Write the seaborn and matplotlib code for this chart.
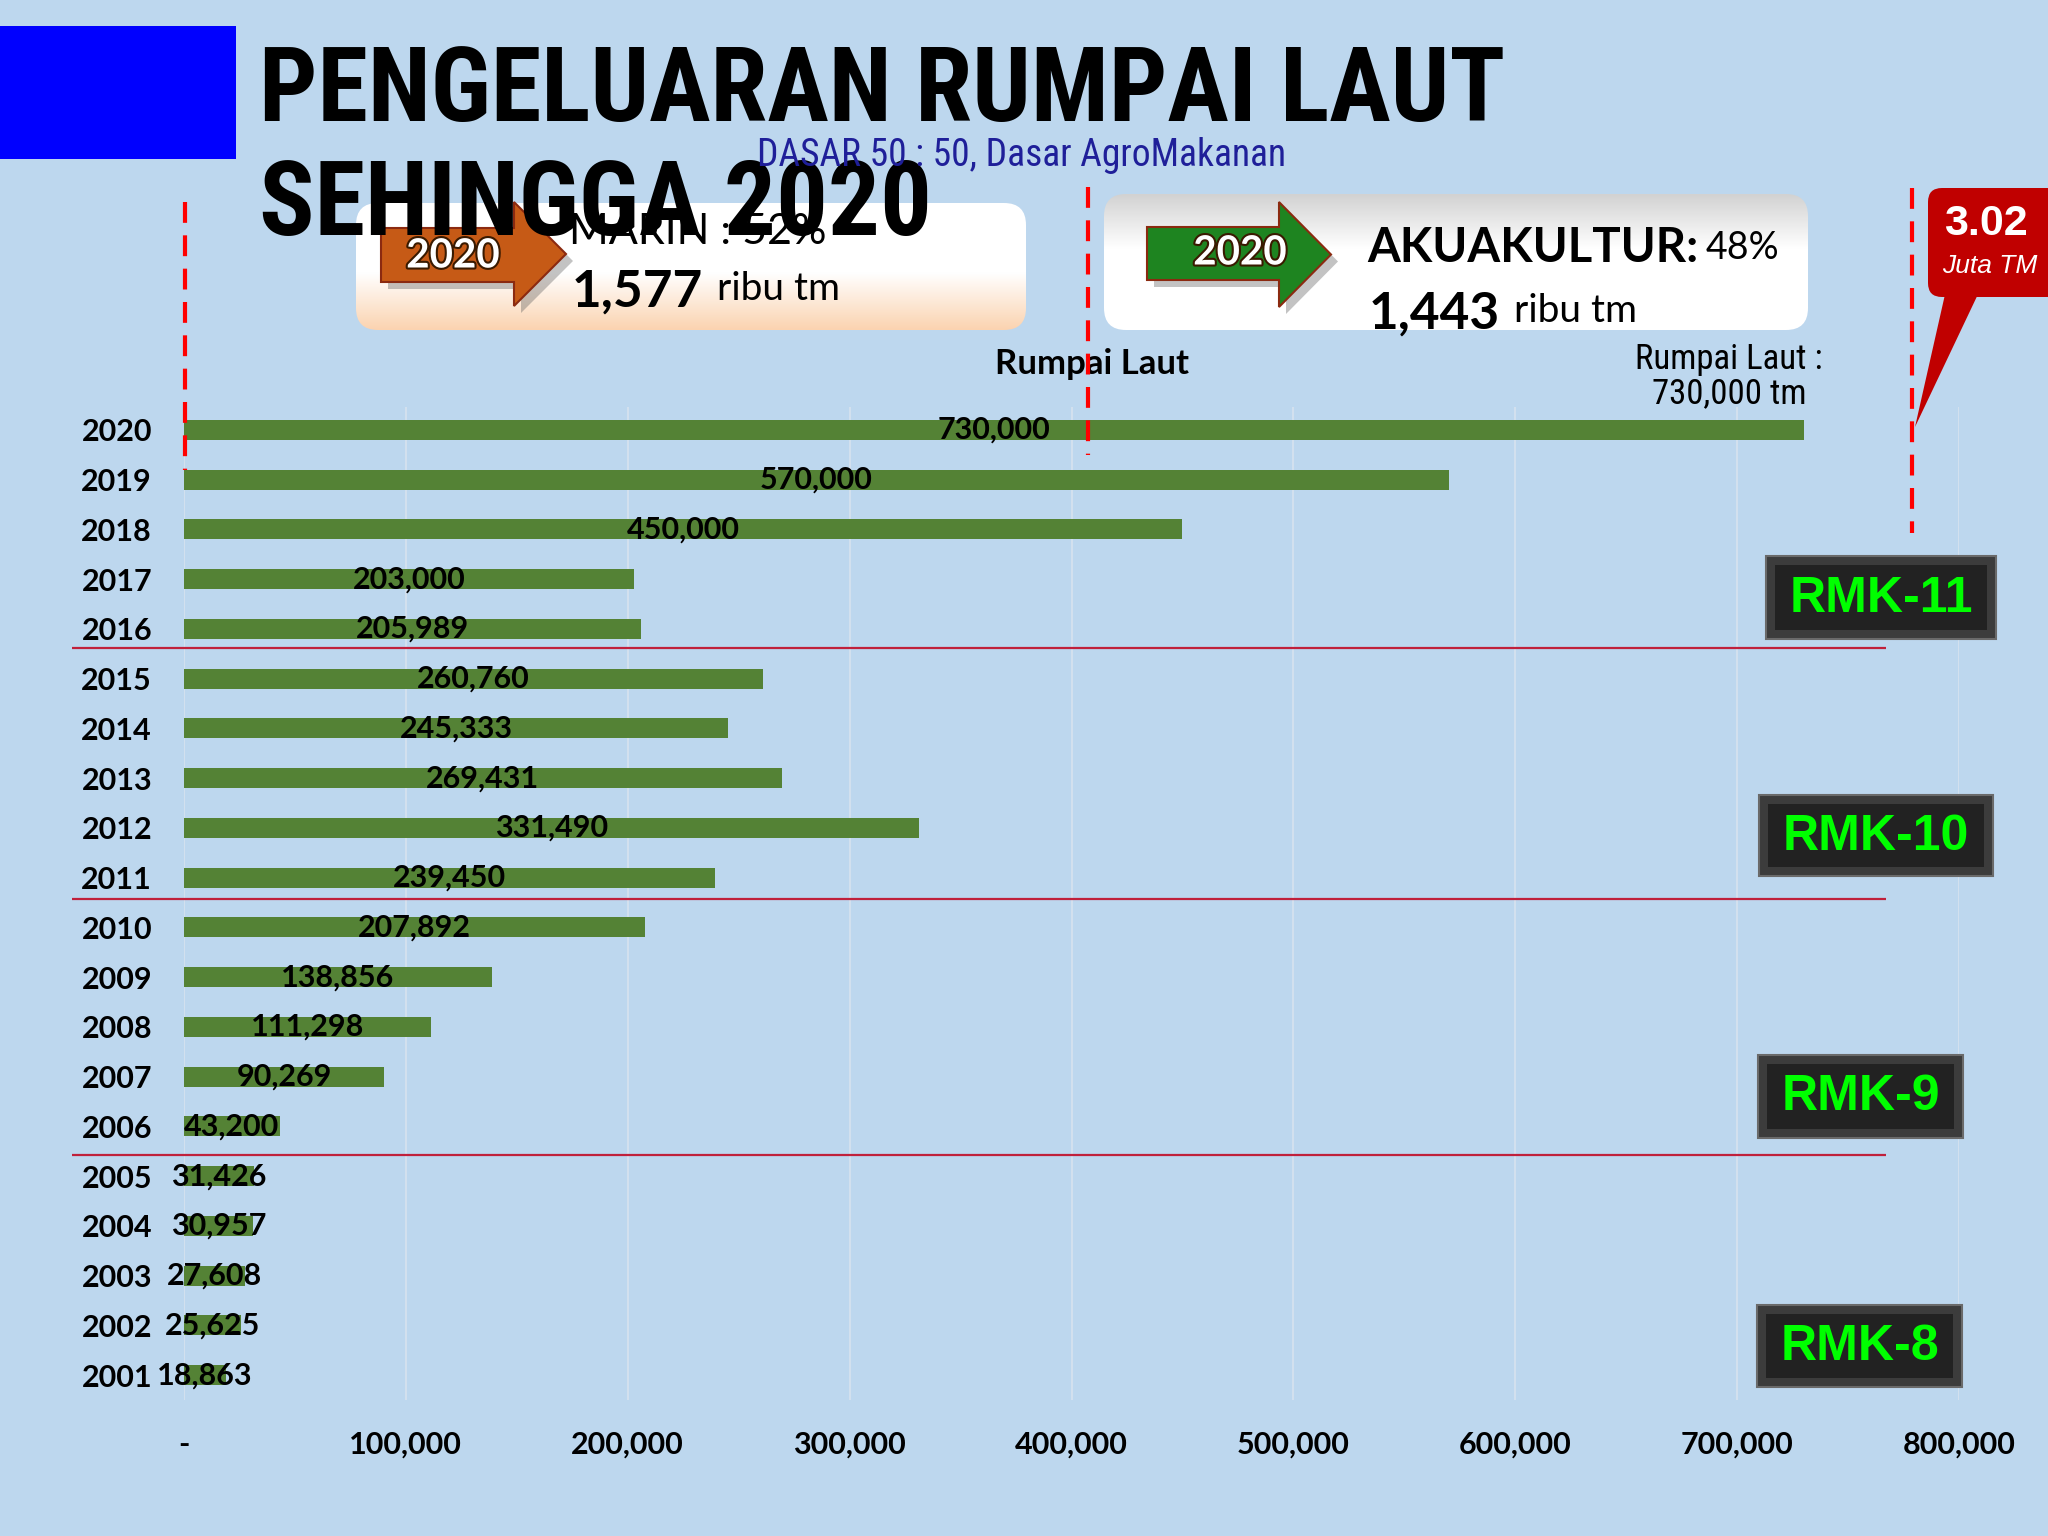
import numpy as np
import matplotlib
matplotlib.use("Agg")
import matplotlib.pyplot as plt
import matplotlib.patheffects as pe
from matplotlib import font_manager as fm
from matplotlib.patches import FancyBboxPatch, Polygon, Rectangle
from matplotlib.ticker import FuncFormatter
import seaborn as sns

# data
years = ['2020', '2019', '2018', '2017', '2016', '2015', '2014', '2013', '2012', '2011',
         '2010', '2009', '2008', '2007', '2006', '2005', '2004', '2003', '2002', '2001']
production = [730000, 570000, 450000, 203000, 205989, 260760, 245333, 269431, 331490, 239450,
              207892, 138856, 111298, 90269, 43200, 31426, 30957, 27608, 25625, 18863]
x_ticks = [0, 100000, 200000, 300000, 400000, 500000, 600000, 700000, 800000]
rmk_labels = ['RMK-11', 'RMK-10', 'RMK-9', 'RMK-8']
rmk_breaks = [4.38, 9.43, 14.57]

bg = '#BDD7EE'
bar_green = '#548235'

plt.rcParams['font.family'] = ['Lato', 'DejaVu Sans']


# look for a narrow face for the title (Arial Narrow look-alike)
def find_narrow(bold):
    wanted = ['Liberation Sans Narrow', 'Roboto Condensed', 'DejaVu Sans Condensed',
              'Open Sans Condensed', 'Noto Sans Condensed']
    for name in wanted:
        for f in fm.fontManager.ttflist:
            is_bold = f.weight in ('bold', 700, 'heavy') or (isinstance(f.weight, int) and f.weight >= 600)
            if (f.name == name or (name.startswith(f.name) and f.stretch == 'condensed')) \
                    and is_bold == bold and f.style == 'normal':
                return f.fname
    return None


nb = find_narrow(True)
nr = find_narrow(False)
title_fp = fm.FontProperties(fname=nb, size=74) if nb else fm.FontProperties(family='Lato', weight='bold', size=63)
sub_fp = fm.FontProperties(fname=nr, size=27) if nr else fm.FontProperties(family='Lato', size=23.5)
note_fp = fm.FontProperties(fname=nr, size=25) if nr else fm.FontProperties(family='Lato', size=24)

fig = plt.figure(figsize=(20.48, 15.36), dpi=100, facecolor=bg)

# main bar chart
ax = fig.add_axes([184 / 2048, 1 - 1400 / 1536, (1959 - 184) / 2048, (1400 - 407) / 1536])
ax.set_facecolor('none')
sns.barplot(x=production, y=years, order=years, orient='h', color=bar_green,
            saturation=1, width=0.4, ax=ax, zorder=3)
ax.set_xlim(0, 800000)
ax.set_ylim(19.5, -0.46)
ax.set_xticks(x_ticks)
ax.xaxis.set_major_formatter(FuncFormatter(lambda v, p: '-' if v == 0 else f'{v:,.0f}'))
ax.grid(axis='x', color='#D5E2EF', lw=1.3, zorder=0)
ax.grid(axis='y', visible=False)
ax.set_axisbelow(True)
for s in ax.spines.values():
    s.set_visible(False)
ax.tick_params(axis='both', length=0, labelsize=22)
ax.tick_params(axis='y', pad=23)
ax.tick_params(axis='x', pad=22)
for lab in ax.get_xticklabels() + ax.get_yticklabels():
    lab.set_fontweight('bold')
ax.set_xlabel('')
ax.set_ylabel('')

ax.bar_label(ax.containers[0], labels=[f'{v:,}' for v in production], label_type='center',
             fontsize=22, fontweight='bold', color='black', zorder=4)

# RMK separators
ax.hlines(rmk_breaks, -50500, 767000, colors='#C0203A', lw=1.6, clip_on=False, zorder=4)

# overlay in pixel coordinates for slide decorations
ov = fig.add_axes([0, 0, 1, 1], zorder=5)
ov.set_facecolor('none')
ov.axis('off')
ov.set_xlim(0, 2048)
ov.set_ylim(1536, 0)


def grad_box(x0, y0, x1, y1, stops, radius=22):
    patch = FancyBboxPatch((x0, y0), x1 - x0, y1 - y0,
                           boxstyle=f'round,pad=0,rounding_size={radius}',
                           fc='none', ec='none')
    ov.add_patch(patch)
    pos = np.linspace(0, 1, 200)
    cols = np.array([matplotlib.colors.to_rgb(c) for _, c in stops])
    ps = [p for p, _ in stops]
    img = np.stack([np.interp(pos, ps, cols[:, i]) for i in range(3)], axis=-1)
    img = np.repeat(img[:, None, :], 2, axis=1)
    im = ov.imshow(img, extent=[x0, x1, y1, y0], aspect='auto', zorder=1)
    im.set_clip_path(patch)


def arrow(x0, x1, xt, yb0, yb1, yh0, yh1, color):
    ym = (yh0 + yh1) / 2
    pts = [(x0, yb0), (x1, yb0), (x1, yh0), (xt, ym), (x1, yh1), (x1, yb1), (x0, yb1)]
    sh = [(x + 7, y + 7) for x, y in pts]
    ov.add_patch(Polygon(sh, closed=True, fc='#555555', ec='none', alpha=0.35, zorder=2))
    ov.add_patch(Polygon(pts, closed=True, fc=color, ec='#8B2A10', lw=1.5, zorder=3))


# blue block
ov.add_patch(Rectangle((0, 26), 236, 133, fc='#0000FF', ec='none', zorder=1))

# info boxes
grad_box(356, 203, 1026, 330, [(0, '#FFFFFF'), (0.55, '#FFFFFF'), (1, '#FBD3B0')])
grad_box(1104, 194, 1808, 330, [(0, '#D2D2D2'), (0.4, '#FFFFFF'), (1, '#FFFFFF')])

arrow(381, 514, 566, 228, 282, 202, 306, '#C65A16')
arrow(1147, 1279, 1331, 227, 280, 202, 307, '#1E8420')
stroke = [pe.withStroke(linewidth=3, foreground='#3A1A00')]
ov.text(453, 256, '2020', ha='center', va='center', fontsize=29, fontweight='bold',
        color='white', path_effects=stroke, zorder=4)
ov.text(1240, 253, '2020', ha='center', va='center', fontsize=29, fontweight='bold',
        color='white', path_effects=stroke, zorder=4)

ov.text(569, 232, 'MARIN : 52%', ha='left', va='center', fontsize=31, color='black', zorder=4)
t = ov.text(572, 292, '1,577', ha='left', va='center', fontsize=37, fontweight='bold', zorder=4)
ov.annotate('ribu tm', xy=(1, 0.5), xycoords=t, xytext=(10, 2), textcoords='offset points',
            ha='left', va='center', fontsize=28, zorder=4)

t = ov.text(1367, 248, 'AKUAKULTUR:', ha='left', va='center', fontsize=34, fontweight='bold', zorder=4)
ov.annotate('48%', xy=(1, 0.5), xycoords=t, xytext=(5, 0), textcoords='offset points',
            ha='left', va='center', fontsize=27, zorder=4)
t = ov.text(1369, 314, '1,443', ha='left', va='center', fontsize=37, fontweight='bold', zorder=4)
ov.annotate('ribu tm', xy=(1, 0.5), xycoords=t, xytext=(10, 2), textcoords='offset points',
            ha='left', va='center', fontsize=28, zorder=4)

# title
ov.text(259, 92, 'PENGELUARAN RUMPAI LAUT', ha='left', va='center',
        fontproperties=title_fp, zorder=6)
ov.text(259, 207, 'SEHINGGA 2020', ha='left', va='center',
        fontproperties=title_fp, zorder=6)
ov.text(757, 156, 'DASAR 50 : 50, Dasar AgroMakanan', ha='left', va='center',
        fontproperties=sub_fp, color='#1F1F99', zorder=6)

# dashed markers
for xd, y0, y1 in [(185, 202, 470), (1088, 187, 455), (1912, 188, 533)]:
    ov.plot([xd, xd], [y0, y1], color='#FF0000', lw=3, dashes=(5, 3), zorder=7)

ov.text(1092, 364, 'Rumpai Laut', ha='center', va='center', fontsize=25, fontweight='bold', zorder=6)
ov.text(1729, 377, 'Rumpai Laut :\n730,000 tm', ha='center', va='center',
        fontproperties=note_fp, linespacing=1.05, zorder=6)

# callout
ov.add_patch(FancyBboxPatch((1928, 188), 140, 109, boxstyle='round,pad=0,rounding_size=14',
                            fc='#C00000', ec='none', zorder=6))
ov.add_patch(Polygon([(1946, 290), (1980, 290), (1915, 427)], closed=True,
                     fc='#C00000', ec='none', zorder=6))
ov.text(1986, 224, '3.02', ha='center', va='center', fontsize=31, fontweight='bold',
        color='white', family=['Liberation Sans', 'DejaVu Sans'], zorder=7)
ov.text(1990, 266, 'Juta TM', ha='center', va='center', fontsize=19, style='italic',
        color='white', family=['Liberation Sans', 'DejaVu Sans'], zorder=7)

# RMK badges
for lab, (x0, y0, x1, y1) in zip(rmk_labels, [(1766, 556, 1996, 639), (1759, 795, 1993, 876),
                                              (1758, 1055, 1963, 1138), (1757, 1305, 1962, 1387)]):
    ov.add_patch(Rectangle((x0, y0), x1 - x0, y1 - y0, fc='#3C3C3C', ec='#6A6A6A', lw=1.5, zorder=6))
    ov.add_patch(Rectangle((x0 + 9, y0 + 9), x1 - x0 - 18, y1 - y0 - 18, fc='#222222', ec='none', zorder=6))
    ov.text((x0 + x1) / 2, (y0 + y1) / 2 + 1, lab, ha='center', va='center', fontsize=36,
            fontweight='bold', color='#00FF00', family=['Liberation Sans', 'DejaVu Sans'], zorder=7)

ov.set_xlim(0, 2048)
ov.set_ylim(1536, 0)

fig.savefig('out.png', dpi=100, facecolor=bg)
